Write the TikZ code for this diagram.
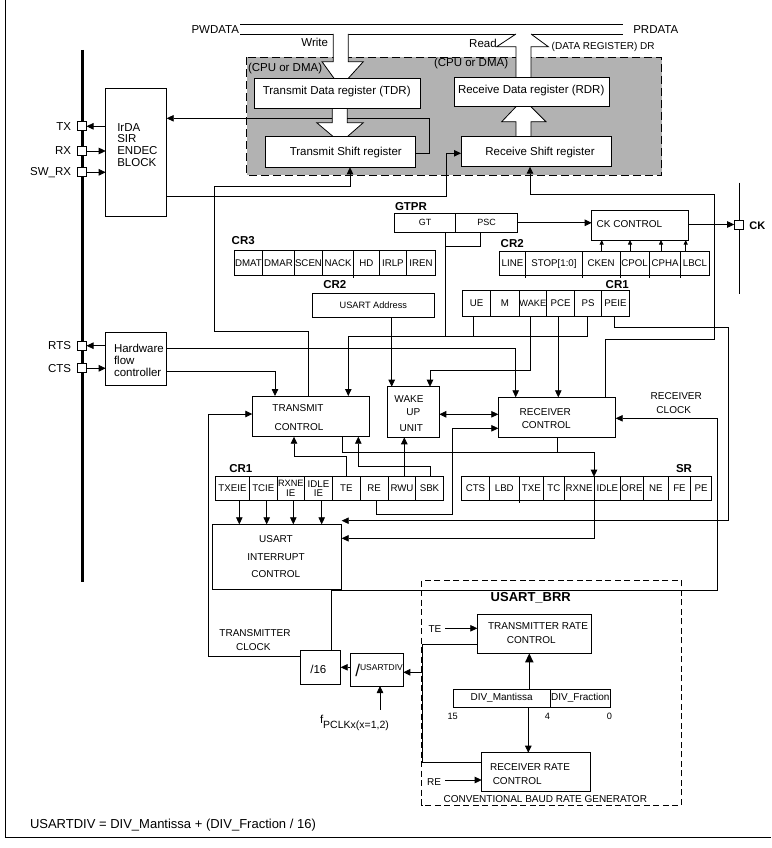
\documentclass[tikz,border=0pt]{standalone}
\usepackage{fontspec}
\setmainfont{Liberation Sans}
\usetikzlibrary{arrows.meta}
\newcommand{\szL}{\fontsize{11.5}{13}\selectfont}
\newcommand{\szM}{\fontsize{10}{12}\selectfont}
\newcommand{\szR}{\fontsize{9.7}{9.3}\selectfont}
\newcommand{\szRs}{\fontsize{9.2}{9.2}\selectfont}
\newcommand{\szB}{\fontsize{11.5}{13}\selectfont\bfseries}
\newcommand{\mkbox}[5]{\node[blk,minimum width=#4pt,minimum height=#5pt] (#1) at (#2,#3) {};}
\newcommand{\mkreg}[6]{\node[regc,minimum width=#4pt,minimum height=#5pt] (#1) at (#2,#3) {#6};}
\begin{document}
\begin{tikzpicture}[x=1pt,y=-1pt,
 wire/.style={line width=0.8pt},
 arw/.style={wire,-{Triangle[length=7pt,width=6.5pt]}},
 arws/.style={wire,-{Triangle[length=4.5pt,width=4pt]}},
 arwd/.style={wire,{Triangle[length=7pt,width=6.5pt]}-{Triangle[length=7pt,width=6.5pt]}},
 arwt/.style={line width=1.6pt,-{Triangle[length=9pt,width=8pt]}},
 blk/.style={draw,line width=0.8pt,fill=white,inner sep=0pt,outer sep=0pt,anchor=north west},
 regc/.style={blk,font=\szR,align=center},
 lbl/.style={inner sep=0pt,outer sep=0pt},
 pinsq/.style={draw,line width=0.8pt,fill=white,minimum size=9pt,inner sep=0pt,outer sep=0pt},
 hol/.style={line width=0.8pt,line join=miter},
]
\useasboundingbox (0,0) rectangle (771,848);
% frame
\draw[wire] (5.5,0) -- (5.5,837.3) -- (771,837.3);
% gray data register area
\draw[fill=black!30,line width=0.9pt,dash pattern=on 8pt off 4pt] (246.7,57.3) rectangle (661.7,175);
% bus
\draw[wire] (240,24) -- (623,24);
\draw[wire] (240,34) -- (333.3,34);
\draw[wire] (348.3,34) -- (516,34);
\draw[wire] (531,34) -- (623,34);
% hollow arrows
\fill[white] (333.3,34) -- (333.3,61.7) -- (322,61.7) -- (334,78.3) -- (348.3,78.3) -- (363.3,61.7) -- (348.3,61.7) -- (348.3,34) -- cycle;
\draw[hol] (333.3,34) -- (333.3,61.7) -- (322,61.7) -- (334,78.3);
\draw[hol] (348.3,34) -- (348.3,61.7) -- (363.3,61.7) -- (348.3,78.3);
\fill[white] (516,78) -- (516,46.7) -- (496.7,46.7) -- (516,34) -- (531,34) -- (548.3,46.7) -- (531,46.7) -- (531,78) -- cycle;
\draw[hol] (516,77.3) -- (516,46.7) -- (496.7,46.7) -- (516,34);
\draw[hol] (531,77.3) -- (531,46.7) -- (548.3,46.7) -- (531,34);
\fill[white] (332.3,108) -- (332.3,122.7) -- (316.7,122.7) -- (333.3,137) -- (347.3,137) -- (363.3,122.7) -- (347.3,122.7) -- (347.3,108) -- cycle;
\draw[hol] (332.3,108.3) -- (332.3,122.7) -- (316.7,122.7) -- (333.3,136.7);
\draw[hol] (347.3,108.3) -- (347.3,122.7) -- (363.3,122.7) -- (347.3,136.7);
\fill[white] (516,136.5) -- (516,121.7) -- (501.7,121.7) -- (516,106.5) -- (531,106.5) -- (546,121.7) -- (531,121.7) -- (531,136.5) -- cycle;
\draw[hol] (516,136) -- (516,121.7) -- (501.7,121.7) -- (516,106.7);
\draw[hol] (531,136) -- (531,121.7) -- (546,121.7) -- (531,106.7);
% buses left and right
\draw[line width=2.6pt] (82.5,50) -- (82.5,581.7);
\draw[line width=1pt] (739.3,182.7) -- (739.3,294);
% BRR dashed box
\draw[line width=0.9pt,dash pattern=on 6pt off 3.5pt] (421.7,580.7) rectangle (681.7,805);
% boxes
\mkbox{tdr}{254}{78.3}{166.7}{30}
\mkbox{tsr}{265.3}{136.7}{150}{30.6}
\mkbox{rdr}{454.3}{77.3}{154.7}{29.4}
\mkbox{rsr}{461}{136}{150.7}{30.7}
\mkbox{irda}{105.7}{88.3}{61}{127.7}
\mkbox{hfc}{105.7}{332.7}{61}{52.3}
\mkbox{ckc}{591.7}{210.7}{96.6}{29.3}
\mkbox{tc}{252.3}{396}{117}{40.7}
\mkbox{wu}{387.3}{386.7}{52}{50.6}
\mkbox{rc}{498.3}{397.3}{117.4}{40}
\mkbox{uic}{212.3}{524.3}{129.4}{65}
\mkbox{d16}{300}{650}{40.7}{34}
\mkbox{udiv}{350.7}{653.3}{52.6}{32.7}
\mkbox{trc}{477.3}{614.3}{114.4}{39}
\mkbox{rrc}{481.7}{752.7}{108.6}{39}
% registers
\mkreg{dmat}{234.3}{250.7}{28.4}{24.3}{DMAT}
\mkreg{dmar}{262.7}{250.7}{31.6}{24.3}{DMAR}
\mkreg{scen}{294.3}{250.7}{28.4}{24.3}{SCEN}
\mkreg{nack}{322.7}{250.7}{31}{24.3}{NACK}
\mkreg{hd}{353.7}{250.7}{25.3}{24.3}{HD}
\mkreg{irlp}{379}{250.7}{27.7}{24.3}{IRLP}
\mkreg{iren}{406.7}{250.7}{28.6}{24.3}{IREN}
\mkreg{gt}{394.3}{213.3}{61.4}{19}{\fontsize{9}{9}\selectfont GT}
\mkreg{psc}{455.7}{213.3}{61.6}{19}{\fontsize{9}{9}\selectfont PSC}
\mkreg{c2line}{499.3}{251.7}{26.4}{23.6}{LINE}
\mkreg{c2stop}{525.7}{251.7}{56.6}{23.6}{STOP[1:0]}
\mkreg{cken}{582.3}{251.7}{37.7}{23.6}{CKEN}
\mkreg{cpol}{620}{251.7}{29.3}{23.6}{CPOL}
\mkreg{cpha}{649.3}{251.7}{31.4}{23.6}{CPHA}
\mkreg{lbcl}{680.7}{251.7}{28.6}{23.6}{LBCL}
\mkreg{adr}{312.3}{293.3}{122}{24.4}{\szRs USART Address}
\mkreg{ue}{462.3}{290.7}{28.4}{25.3}{UE}
\mkreg{mm}{490.7}{290.7}{28.3}{25.3}{M}
\mkreg{wake}{519}{290.7}{27.7}{25.3}{\szRs WAKE}
\mkreg{pce}{546.7}{290.7}{27.6}{25.3}{PCE}
\mkreg{ps}{574.3}{290.7}{27.4}{25.3}{PS}
\mkreg{peie}{601.7}{290.7}{27.6}{25.3}{PEIE}
\mkreg{txeie}{215.7}{476.7}{33.6}{23.3}{TXEIE}
\mkreg{tcie}{249.3}{476.7}{28}{23.3}{TCIE}
\mkreg{rxneie}{277.3}{476.7}{27}{23.3}{\szRs RXNE\\IE}
\mkreg{idleie}{304.3}{476.7}{28.4}{23.3}{IDLE\\IE}
\mkreg{te}{332.7}{476.7}{27.3}{23.3}{TE}
\mkreg{re}{360}{476.7}{28.3}{23.3}{RE}
\mkreg{rwu}{388.3}{476.7}{27.4}{23.3}{RWU}
\mkreg{sbk}{415.7}{476.7}{27.6}{23.3}{SBK}
\mkreg{cts}{461.7}{476.7}{27.6}{23.3}{CTS}
\mkreg{lbd}{489.3}{476.7}{30}{23.3}{LBD}
\mkreg{txe}{519.3}{476.7}{24}{23.3}{TXE}
\mkreg{srtc}{543.3}{476.7}{21}{23.3}{TC}
\mkreg{rxne}{564.3}{476.7}{29.7}{23.3}{RXNE}
\mkreg{idle}{594}{476.7}{26.7}{23.3}{IDLE}
\mkreg{ore}{620.7}{476.7}{22.6}{23.3}{ORE}
\mkreg{ne}{643.3}{476.7}{25}{23.3}{NE}
\mkreg{fe}{668.3}{476.7}{22.4}{23.3}{FE}
\mkreg{pe}{690.7}{476.7}{21}{23.3}{PE}
\mkreg{mant}{453.3}{689}{96.7}{18.7}{\szM DIV\_Mantissa}
\mkreg{frac}{550}{689}{60.7}{18.7}{\szM DIV\_Fraction}
% divider ticks
\draw[wire] (nack.south east) -- ++(0,3);
\draw[wire] (lbd.south east) -- ++(0,3);
\foreach \cc in {c2line,c2stop,cken,cpol,cpha} \draw[wire] (\cc.south east) -- ++(0,2.5);
% pins
\node[pinsq] (ptx) at (82,126.3) {};
\node[pinsq] (prx) at (82,151) {};
\node[pinsq] (pswrx) at (82,172.3) {};
\node[pinsq] (prts) at (82,345.7) {};
\node[pinsq] (pcts) at (82,368.3) {};
\node[pinsq] (pck) at (738.7,224.5) {};
% coordinates
\coordinate (tstemL) at (332.3,118.3);
\coordinate (tstemR) at (347.3,118.3);
\coordinate (fpin) at (380,709.5);
\coordinate (bj) at (422.7,672.3);
\coordinate (tein) at (445,628.3);
\coordinate (rein) at (445,780);
% connectors
\draw[arw] (tstemL) -- (irda.east |- tstemL);
\draw[wire] (tsr.east |- 0,153.3) -| (429.3,118.3) -- (tstemR);
\draw[arw] (irda.east |- 0,196) -| (446.7,153.3) -- (rsr.west |- 0,153.3);
\draw[arw] (tc.north -| 308.3,0) |- (214.3,331.7) |- (350,186.7) -- (tsr.south -| 350,0);
\draw[arw] (rc.north -| 605,0) |- (714.3,339.3) |- (530,194) -- (rsr.south -| 530,0);
\draw[arw] (hfc.east |- 0,348.3) -| (rc.north -| 515.7,0);
\draw[arw] (hfc.east |- 0,371) -| (tc.north -| 275,0);
\draw[arw] (irda.west |- ptx) -- (ptx.east);
\draw[arw] (prx.east) -- (irda.west |- prx);
\draw[arw] (pswrx.east) -- (irda.west |- pswrx);
\draw[arw] (hfc.west |- prts) -- (prts.east);
\draw[arw] (pcts.east) -- (hfc.west |- pcts);
\draw[wire] (gt.south -| 445.7,0) -- (445.7,336.7);
\draw[wire] (psc.south -| 480,0) |- (445.7,246);
\draw[arw] (ps.south -| 587.3,0) |- (348.3,336.7) -- (tc.north -| 348.3,0);
\draw[wire] (ue.south -| 473.3,0) -- (473.3,336.7);
\draw[arw] (psc.east) -- (ckc.west |- psc.east);
\draw[arw] (ckc.east |- pck) -- (pck.west);
\foreach \xx/\cc in {601.7/cken,630/cpol,661/cpha,685.7/lbcl} \draw[arws] (\cc.north -| \xx,0) -- (ckc.south -| \xx,0);
\draw[arw] (adr.south -| 391.7,0) -- (wu.north -| 391.7,0);
\draw[arw] (wake.south -| 530,0) |- (430,370.7) -- (wu.north -| 430,0);
\draw[arw] (pce.south -| 558.3,0) -- (rc.north -| 558.3,0);
\draw[arw] (peie.south -| 614.3,0) |- (728.3,327.5) |- (uic.east |- 0,520.7);
\draw[arwd] (wu.east |- 0,414.3) -- (rc.west |- 0,414.3);
\draw[arw] (d16.west |- 0,656) -| (208,414) -- (tc.west |- 0,414);
\draw[arw] (te.north -| 346,0) |- (294,456.7) -- (tc.south -| 294,0);
\draw[arw] (sbk.north -| 430,0) |- (358.3,466.7) -- (tc.south -| 358.3,0);
\draw[arw] (rwu.north -| 404.3,0) -- (wu.south -| 404.3,0);
\draw[arw] (tc.south -| 342.3,0) |- (594,452.3) -- (idle.north west);
\draw[wire] (rc.south -| 557.3,0) -- (557.3,452.3);
\draw[arw] (re.south -| 376,0) |- (452.7,514) |- (rc.west |- 0,428.3);
\draw[arw] (idle.south west) |- (uic.east |- 0,538.3);
\draw[arw] (d16.north -| 331.7,0) |- (717.3,590) |- (rc.east |- 0,418.3);
\foreach \xx/\cc in {239.3/txeie,266.7/tcie,293.3/rxneie,321.7/idleie} \draw[arw] (\cc.south -| \xx,0) -- (uic.north -| \xx,0);
\draw[arw] (udiv.west |- 0,667.3) -- (d16.east |- 0,667.3);
\draw[arw] (fpin) -- (udiv.south -| fpin);
\draw[wire] (trc.west |- 0,644) -| (422.7,762.3) -- (rrc.west |- 0,762.3);
\draw[arw] (bj) -- (udiv.east |- bj);
\draw[arw] (tein) -- (trc.west |- tein);
\draw[arw] (rein) -- (rrc.west |- rein);
\draw[arwt] (mant.north -| 529.3,0) -- (trc.south -| 529.3,0);
\draw[arw] (mant.south -| 528.3,0) -- (rrc.north -| 528.3,0);
% texts
\node[lbl,font=\szL,anchor=east] (tpw) at (239,29.3) {PWDATA};
\node[lbl,font=\szL,anchor=west] (tpr) at (633.3,29.3) {PRDATA};
\node[lbl,font=\szL,anchor=east] (twr) at (328,42.3) {Write};
\node[lbl,font=\szL,anchor=east] (trd) at (496.7,43.3) {Read};
\node[lbl,font=\szL,anchor=west] (tcpu1) at (248,68.3) {(CPU or DMA)};
\node[lbl,font=\szL,anchor=west] (tcpu2) at (434,63.3) {(CPU or DMA)};
\node[lbl,font=\szM,anchor=west] (tdreg) at (551.7,47.3) {(DATA REGISTER) DR};
\node[lbl,font=\szL] (ttdr) at (336.7,91.7) {Transmit Data register (TDR)};
\node[lbl,font=\szL] (ttsr) at (345.8,152.7) {Transmit Shift register};
\node[lbl,font=\szL] (trdr) at (531.2,91) {Receive Data register (RDR)};
\node[lbl,font=\szL] (trsr) at (540,152.3) {Receive Shift register};
\node[lbl,font=\fontsize{11.5}{11.6}\selectfont,align=left,anchor=north west] (tirda) at (117.3,123.3) {IrDA\\SIR\\ENDEC\\BLOCK};
\node[lbl,font=\fontsize{11.5}{12}\selectfont,align=left,anchor=north west] (thfc) at (114,344) {Hardware\\flow\\controller};
\node[lbl,font=\szL,anchor=east] (ttx) at (71,126.3) {TX};
\node[lbl,font=\szL,anchor=east] (trx) at (71,151) {RX};
\node[lbl,font=\szL,anchor=east] (tswrx) at (71,172.3) {SW\_RX};
\node[lbl,font=\szL,anchor=east] (trts) at (71,345.7) {RTS};
\node[lbl,font=\szL,anchor=east] (tcts) at (71,368.3) {CTS};
\node[lbl,font=\szB,anchor=west] (tcr3) at (231.7,241) {CR3};
\node[lbl,font=\szB,anchor=west] (tgtpr) at (395,206.7) {GTPR};
\node[lbl,font=\szB,anchor=west] (tcr2a) at (500.7,244) {CR2};
\node[lbl,font=\szB,anchor=west] (tcr2b) at (323.3,285) {CR2};
\node[lbl,font=\szB,anchor=west] (tcr1a) at (605.7,285) {CR1};
\node[lbl,font=\szB,anchor=west] (tcr1b) at (229.3,469) {CR1};
\node[lbl,font=\szB,anchor=west] (tsr2) at (676,469) {SR};
\node[lbl,font=\fontsize{11}{13}\selectfont\bfseries,anchor=west] (tck) at (749.3,225.7) {CK};
\node[lbl,font=\szM,anchor=west] (tckc) at (596.7,224) {CK CONTROL};
\node[lbl,font=\szM] (ttc1) at (298,408.3) {TRANSMIT};
\node[lbl,font=\szM] (ttc2) at (299,426.7) {CONTROL};
\node[lbl,font=\szM] (twu1) at (409,399.3) {WAKE};
\node[lbl,font=\szM] (twu2) at (413.3,412) {UP};
\node[lbl,font=\szM] (twu3) at (411.3,428.3) {UNIT};
\node[lbl,font=\szM] (trc1) at (545.3,412.3) {RECEIVER};
\node[lbl,font=\szM] (trc2) at (546.2,425) {CONTROL};
\node[lbl,font=\szM] (trck1) at (676.3,395.7) {RECEIVER};
\node[lbl,font=\szM] (trck2) at (673.7,410) {CLOCK};
\node[lbl,font=\szM] (tui1) at (276,539.3) {USART};
\node[lbl,font=\szM] (tui2) at (276,556.7) {INTERRUPT};
\node[lbl,font=\szM] (tui3) at (275.8,574.3) {CONTROL};
\node[lbl,font=\szM] (ttck1) at (255,633.3) {TRANSMITTER};
\node[lbl,font=\szM] (ttck2) at (253.3,647.3) {CLOCK};
\node[lbl,font=\szL] (td16) at (318.3,669.3) {/16};
\node[lbl,anchor=base west] (tudiv) at (355.3,670.7) {\raisebox{-6pt}{\fontsize{17}{17}\selectfont /}\fontsize{8.5}{9}\selectfont USARTDIV};
\node[lbl,anchor=base west] (tfp) at (320,723.5) {\szL f\raisebox{-5pt}{\fontsize{10.5}{11}\selectfont PCLKx(x=1,2)}};
\node[lbl,font=\fontsize{13}{15}\selectfont\bfseries] (tbrr) at (530.8,597.7) {USART\_BRR};
\node[lbl,font=\szM] (ttrc1) at (538,625.7) {TRANSMITTER RATE};
\node[lbl,font=\szM] (ttrc2) at (531.3,640) {CONTROL};
\node[lbl,font=\szM] (trrc1) at (530,766.7) {RECEIVER RATE};
\node[lbl,font=\szM] (trrc2) at (517.2,781) {CONTROL};
\node[lbl,font=\szM] (tte) at (435,629.3) {TE};
\node[lbl,font=\szM] (tre) at (434,781.7) {RE};
\node[lbl,font=\szRs] (t15) at (452.7,716) {15};
\node[lbl,font=\szRs] (t4) at (547.3,716) {4};
\node[lbl,font=\szRs] (t0) at (609.3,716) {0};
\node[lbl,font=\szM] (tcbrg) at (545.3,799.3) {CONVENTIONAL BAUD RATE GENERATOR};
\node[lbl,font=\fontsize{13}{15}\selectfont,anchor=west] (tform) at (30,825) {USARTDIV = DIV\_Mantissa + (DIV\_Fraction / 16)};
\end{tikzpicture}
\end{document}
